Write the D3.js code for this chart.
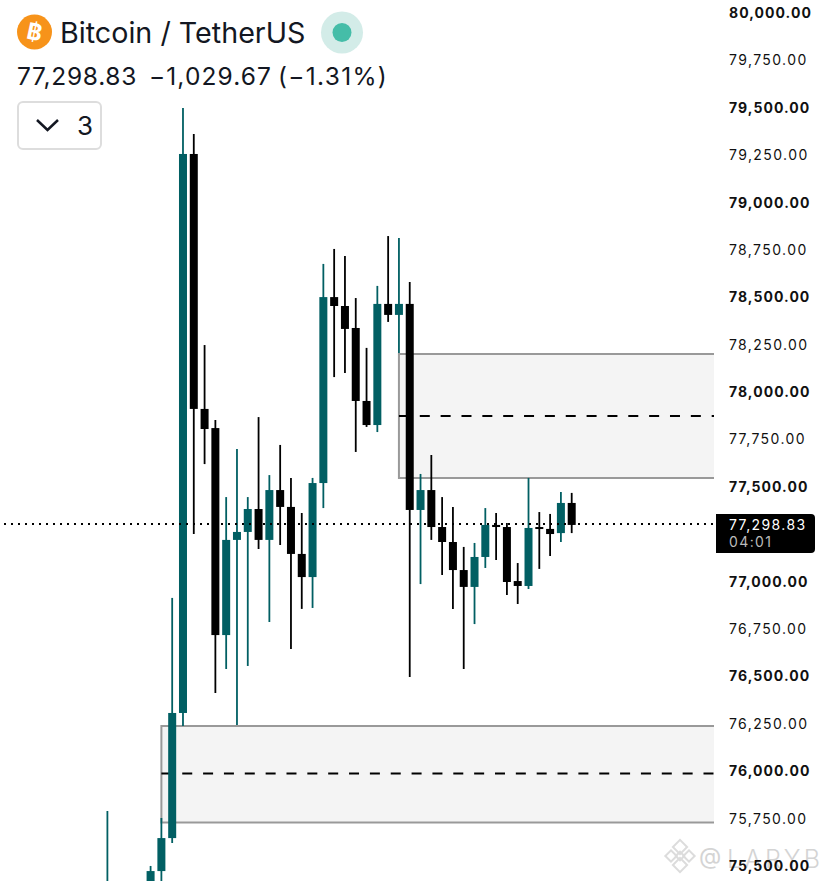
<!DOCTYPE html>
<html>
<head>
<meta charset="utf-8">
<script src="https://cdn.jsdelivr.net/npm/d3@7"></script>
<style>
  html, body { margin: 0; padding: 0; background: #fff; }
  svg { display: block; font-family: Inter, "Noto Sans", sans-serif; }
</style>
</head>
<body>
<div id="chart"></div>
<script>
// bar number counted from the leftmost visible candle
const bars  = [0, 4, 5, 6, 7, 8, 9, 10, 11, 12, 13, 14, 15, 16, 17, 18, 19, 20, 21, 22, 23, 24, 25, 26, 27, 28, 29, 30, 31, 32, 33, 34, 35, 36, 37, 38, 39, 40, 41, 42, 43];
const opens = [75330, 75380, 75468, 75642, 76302, 79251, 77906, 77805, 76713, 77215, 77257, 77378, 77215, 77478, 77389, 77141, 77019, 77515, 78496, 78449, 78333, 77948, 77821, 78460, 78402, 78460, 77373, 77478, 77283, 77204, 77056, 76967, 77125, 77294, 77283, 76998, 76972, 77283, 77273, 77251, 77410];
const highs = [75785, 75495, 75748, 76909, 79494, 79356, 78243, 77848, 77441, 77695, 77441, 77863, 77557, 77716, 77542, 77357, 77542, 78671, 78750, 78713, 78491, 78228, 78555, 78818, 78808, 78576, 77563, 77663, 77441, 77389, 77178, 77199, 77383, 77357, 77304, 77093, 77542, 77362, 77352, 77468, 77463];
const lows  = [75300, 75350, 75400, 75616, 76233, 77246, 77615, 76407, 76534, 76239, 76550, 77167, 76782, 77188, 76640, 76851, 76856, 77383, 78074, 78096, 77679, 77811, 77784, 78365, 78201, 76492, 76982, 77215, 77030, 76851, 76534, 76771, 77067, 77109, 76924, 76877, 76956, 77062, 77130, 77204, 77251];
const closes = [75390, 75468, 75642, 76302, 79251, 77906, 77800, 76713, 77215, 77257, 77378, 77215, 77478, 77389, 77141, 77019, 77515, 78496, 78449, 78328, 77948, 77821, 78460, 78402, 78460, 77373, 77478, 77283, 77204, 77056, 76967, 77125, 77294, 77283, 76993, 76972, 77278, 77273, 77246, 77410, 77294];

// supply / demand zones
const zoneStartBars = [27, 5];
const zoneTops = [78196, 76233];
const zoneMids = [77869, 75983];
const zoneBottoms = [77542, 75724];

// 77,250 sits behind the last price tag, so it is left out
const priceTicks = [75500, 75750, 76000, 76250, 76500, 76750, 77000, 77500, 77750, 78000, 78250, 78500, 78750, 79000, 79250, 79500, 79750, 80000];
const lastPrice = 77298.83;

const width = 829;
const height = 881;
const plotRight = 714;

const svg = d3.select("#chart").append("svg")
    .attr("width", width)
    .attr("height", height);

const y = d3.scaleLinear().domain([75500, 80000]).range([865, 12]);
const x = d3.scaleLinear().domain([0, 43]).range([107.4, 571.7]);

const teal = "#015f63";
const bodyWidth = 8;

// zones go under the candles
const zones = d3.range(zoneTops.length);

svg.selectAll("rect.zone")
    .data(zones)
    .join("rect")
    .attr("class", "zone")
    .attr("x", i => x(zoneStartBars[i]))
    .attr("y", i => y(zoneTops[i]))
    .attr("width", i => plotRight - x(zoneStartBars[i]))
    .attr("height", i => y(zoneBottoms[i]) - y(zoneTops[i]))
    .attr("fill", "#f4f4f4");

// only top, left and bottom get a border, the zone runs open to the axis
svg.selectAll("path.zone-border")
    .data(zones)
    .join("path")
    .attr("class", "zone-border")
    .attr("fill", "none")
    .attr("stroke", "#999")
    .attr("stroke-width", 2)
    .attr("d", i => {
        const left = x(zoneStartBars[i]);
        return `M${plotRight},${y(zoneTops[i])}H${left}V${y(zoneBottoms[i])}H${plotRight}`;
    });

svg.selectAll("line.zone-mid")
    .data(zones)
    .join("line")
    .attr("class", "zone-mid")
    .attr("x1", i => x(zoneStartBars[i]))
    .attr("x2", plotRight)
    .attr("y1", i => y(zoneMids[i]))
    .attr("y2", i => y(zoneMids[i]))
    .attr("stroke", "#000")
    .attr("stroke-width", 2)
    .attr("stroke-dasharray", "10,10.85");

// candles
const candles = svg.selectAll("g.candle")
    .data(bars.map((b, i) => ({ bar: b, open: opens[i], high: highs[i], low: lows[i], close: closes[i] })))
    .join("g")
    .attr("class", "candle")
    .attr("fill", d => d.close > d.open ? teal : "#000")
    .attr("stroke", d => d.close > d.open ? teal : "#000");

candles.append("line")
    .attr("x1", d => x(d.bar))
    .attr("x2", d => x(d.bar))
    .attr("y1", d => y(d.high))
    .attr("y2", d => y(d.low))
    .attr("stroke-width", 1.8);

candles.append("rect")
    .attr("x", d => x(d.bar) - bodyWidth / 2)
    .attr("y", d => y(Math.max(d.open, d.close)))
    .attr("width", bodyWidth)
    .attr("height", d => Math.max(2, Math.abs(y(d.open) - y(d.close))))
    .attr("stroke", "none");

// last price line
svg.append("line")
    .attr("x1", 4)
    .attr("x2", 716)
    .attr("y1", y(lastPrice))
    .attr("y2", y(lastPrice))
    .attr("stroke", "#000")
    .attr("stroke-width", 2)
    .attr("stroke-dasharray", "2,5");

// watermark, under the axis labels
const mark = svg.append("g")
    .attr("fill", "none")
    .attr("stroke", "#d9d9d9")
    .attr("stroke-width", 2)
    .attr("opacity", 0.9);
[[680, 847, 5], [671, 856, 4], [689, 856, 4], [680, 865, 5], [680, 856, 3]].forEach(p => {
    mark.append("rect")
        .attr("x", p[0] - p[2])
        .attr("y", p[1] - p[2])
        .attr("width", p[2] * 2)
        .attr("height", p[2] * 2)
        .attr("transform", `rotate(45,${p[0]},${p[1]})`);
});
svg.append("text")
    .attr("x", 699)
    .attr("y", 864)
    .attr("font-size", 23)
    .attr("fill", "#d4d4d4")
    .text("@");
svg.append("text")
    .attr("x", 727)
    .attr("y", 868)
    .attr("font-size", 25)
    .attr("font-weight", 300)
    .attr("letter-spacing", 3.5)
    .attr("fill", "#d4d4d4")
    .text("LARYB");

// price axis
const axis = d3.axisRight(y)
    .tickValues(priceTicks)
    .tickSize(0)
    .tickPadding(0)
    .tickFormat(d3.format(",.2f"));

const axisG = svg.append("g")
    .attr("transform", "translate(729,1)")
    .call(axis);

axisG.select(".domain").remove();
axisG.selectAll("text")
    .attr("font-family", "Inter, 'Noto Sans', sans-serif")
    .attr("font-size", 14)
    .attr("letter-spacing", d => d % 500 === 0 ? 1.05 : 1.4)
    .attr("fill", "#111")
    .attr("font-weight", d => d % 500 === 0 ? 700 : 400);

// last price tag
svg.append("path")
    .attr("d", "M716,514H811a4,4 0 0 1 4,4V549a4,4 0 0 1 -4,4H716Z")
    .attr("fill", "#000");
svg.append("text")
    .attr("x", 729)
    .attr("y", 530)
    .attr("font-size", 14)
    .attr("letter-spacing", 1.4)
    .attr("fill", "#fff")
    .text(d3.format(",.2f")(lastPrice));
svg.append("text")
    .attr("x", 729)
    .attr("y", 547)
    .attr("font-size", 14)
    .attr("letter-spacing", 1.4)
    .attr("fill", "#bbb")
    .text("04:01");

// header
const header = svg.append("g");

header.append("circle")
    .attr("cx", 34.5)
    .attr("cy", 32)
    .attr("r", 17.5)
    .attr("fill", "#f7931a");
header.append("text")
    .attr("x", 34.5)
    .attr("y", 40)
    .attr("text-anchor", "middle")
    .attr("font-size", 23)
    .attr("font-weight", 700)
    .attr("fill", "#fff")
    .attr("transform", "rotate(12,34.5,32)")
    .text("฿");

header.append("text")
    .attr("x", 60)
    .attr("y", 43)
    .attr("font-size", 28.7)
    .attr("fill", "#131722")
    .text("Bitcoin / TetherUS");

header.append("circle")
    .attr("cx", 342)
    .attr("cy", 32.5)
    .attr("r", 21)
    .attr("fill", "#d3ece8");
header.append("circle")
    .attr("cx", 342)
    .attr("cy", 32.5)
    .attr("r", 9.5)
    .attr("fill", "#45bda8");

// last price, change and percent are spaced apart by hand
[[17, "77,298.83", 0.7], [149, "−1,029.67", 1.1], [278, "(−1.31%)", 1.3]].forEach(t => {
    header.append("text")
        .attr("x", t[0])
        .attr("y", 85)
        .attr("font-size", 24.5)
        .attr("letter-spacing", t[2])
        .attr("fill", "#131722")
        .text(t[1]);
});

header.append("rect")
    .attr("x", 18)
    .attr("y", 102)
    .attr("width", 83)
    .attr("height", 47)
    .attr("rx", 5)
    .attr("fill", "#fff")
    .attr("stroke", "#ddd")
    .attr("stroke-width", 2);
header.append("path")
    .attr("d", "M37,120L47.5,130L58,120")
    .attr("fill", "none")
    .attr("stroke", "#131722")
    .attr("stroke-width", 2.5);
header.append("text")
    .attr("x", 77)
    .attr("y", 135)
    .attr("font-size", 26)
    .attr("fill", "#131722")
    .text("3");
</script>
</body>
</html>
